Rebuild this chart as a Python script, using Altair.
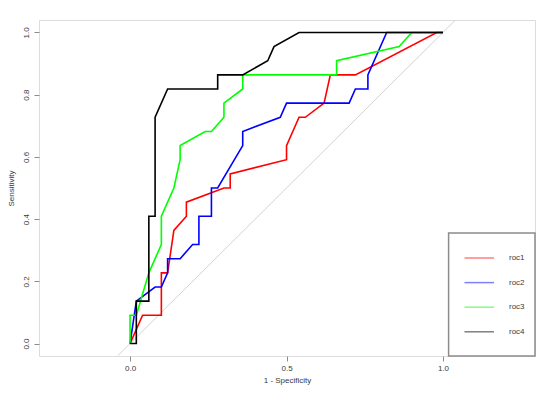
import altair as alt
import pandas as pd

series = ["roc1", "roc2", "roc3", "roc4"]
colors = ["#FF0000", "#0000FF", "#00FF00", "#000000"]
n_cases = 22  # sensitivity steps are counts out of 22 cases

# 1 - specificity (x) and true-positive counts (y, out of 22)
roc1_x = [0, 0.04, 0.10, 0.10, 0.12, 0.14, 0.18, 0.18, 0.30, 0.32, 0.32, 0.50, 0.50, 0.54, 0.56, 0.62, 0.64, 0.72, 0.98, 1.0]
roc1_y = [0, 2, 2, 5, 5, 8, 9, 10, 11, 11, 12, 13, 14, 16, 16, 17, 19, 19, 22, 22]

roc2_x = [0, 0.02, 0.08, 0.10, 0.12, 0.12, 0.16, 0.20, 0.22, 0.22, 0.26, 0.26, 0.28, 0.36, 0.36, 0.48, 0.50, 0.70, 0.72, 0.76, 0.76, 0.82, 1.0]
roc2_y = [0, 3, 4, 4, 5, 6, 6, 7, 7, 9, 9, 11, 11, 14, 15, 16, 17, 17, 18, 18, 19, 22, 22]

roc3_x = [0, 0, 0.02, 0.06, 0.10, 0.10, 0.14, 0.16, 0.16, 0.24, 0.26, 0.30, 0.30, 0.36, 0.36, 0.66, 0.66, 0.86, 0.90, 1.0]
roc3_y = [0, 2, 2, 5, 7, 9, 11, 13, 14, 15, 15, 16, 17, 18, 19, 19, 20, 21, 22, 22]

roc4_x = [0, 0.02, 0.02, 0.06, 0.06, 0.08, 0.08, 0.12, 0.28, 0.28, 0.36, 0.44, 0.46, 0.54, 1.0]
roc4_y = [0, 0, 3, 3, 9, 9, 16, 18, 18, 19, 19, 20, 21, 22, 22]

x_ticks = [0.0, 0.5, 1.0]
y_ticks = [0.0, 0.2, 0.4, 0.6, 0.8, 1.0]

rows = []
for name, xs, ys in [("roc1", roc1_x, roc1_y), ("roc2", roc2_x, roc2_y),
                     ("roc3", roc3_x, roc3_y), ("roc4", roc4_x, roc4_y)]:
    for i, (xv, yv) in enumerate(zip(xs, ys)):
        rows.append({"series": name, "fpr": xv, "sens": yv / n_cases, "idx": i})
df = pd.DataFrame(rows)

frame_col = "#8c8c8c"
text_col = "#3a3a3a"

xscale = alt.Scale(domain=[-0.291, 1.294], nice=False, zero=False)
yscale = alt.Scale(domain=[-0.04, 1.04], nice=False, zero=False)

diag = alt.Chart(pd.DataFrame({"fpr": [-0.04, 1.04], "sens": [-0.04, 1.04]})).mark_line(
    color="#d3d3d3", strokeWidth=1, clip=True
).encode(
    x=alt.X("fpr:Q", scale=xscale),
    y=alt.Y("sens:Q", scale=yscale),
)

curves = alt.Chart(df).mark_line(strokeWidth=1.6, clip=True).encode(
    x=alt.X("fpr:Q", scale=xscale,
            axis=alt.Axis(values=x_ticks, format=".1f", title="1 - Specificity",
                          domain=False, grid=False, tickSize=5, tickColor=frame_col,
                          labelFontSize=8, labelColor=text_col, labelPadding=3,
                          titleFontSize=8, titleFontWeight="normal", titleColor=text_col,
                          titlePadding=4)),
    y=alt.Y("sens:Q", scale=yscale,
            axis=alt.Axis(values=y_ticks, format=".1f", title="Sensitivity",
                          domain=False, grid=False, tickSize=5, tickColor=frame_col,
                          labelAngle=270, labelFontSize=8, labelColor=text_col,
                          labelPadding=4, titleFontSize=8, titleFontWeight="normal",
                          titleColor=text_col, titlePadding=7)),
    color=alt.Color("series:N", scale=alt.Scale(domain=series, range=colors), legend=None),
    order="idx:Q",
)

legend_box = alt.Chart(pd.DataFrame({"a": [0]})).mark_rect(
    fill="white", stroke=frame_col, strokeWidth=1.5
).encode(
    x=alt.value(409.6), x2=alt.value(496), y=alt.value(213), y2=alt.value(336)
)

legend_layers = []
for i, (name, col) in enumerate(zip(series, colors)):
    ld = pd.DataFrame({"s": [name]})
    ypos = 238 + 24.6 * i
    legend_layers.append(
        alt.Chart(ld).mark_rule(color=col, strokeWidth=1.5, opacity=0.5).encode(
            x=alt.value(425.5), x2=alt.value(455), y=alt.value(ypos)
        )
    )
    legend_layers.append(
        alt.Chart(ld).mark_text(align="left", baseline="middle", fontSize=8,
                                color=text_col).encode(
            x=alt.value(470), y=alt.value(ypos), text="s:N"
        )
    )

chart = alt.layer(diag, curves, legend_box, *legend_layers).properties(
    width=496, height=336,
    padding={"left": 31, "top": 12, "right": 11, "bottom": 31},
    autosize=alt.AutoSizeParams(type="none"),
).configure_view(
    stroke=frame_col, strokeWidth=1.5
).configure(
    font="Liberation Sans"
)

chart.save("out.html", embed_options={"renderer": "svg", "actions": False})
